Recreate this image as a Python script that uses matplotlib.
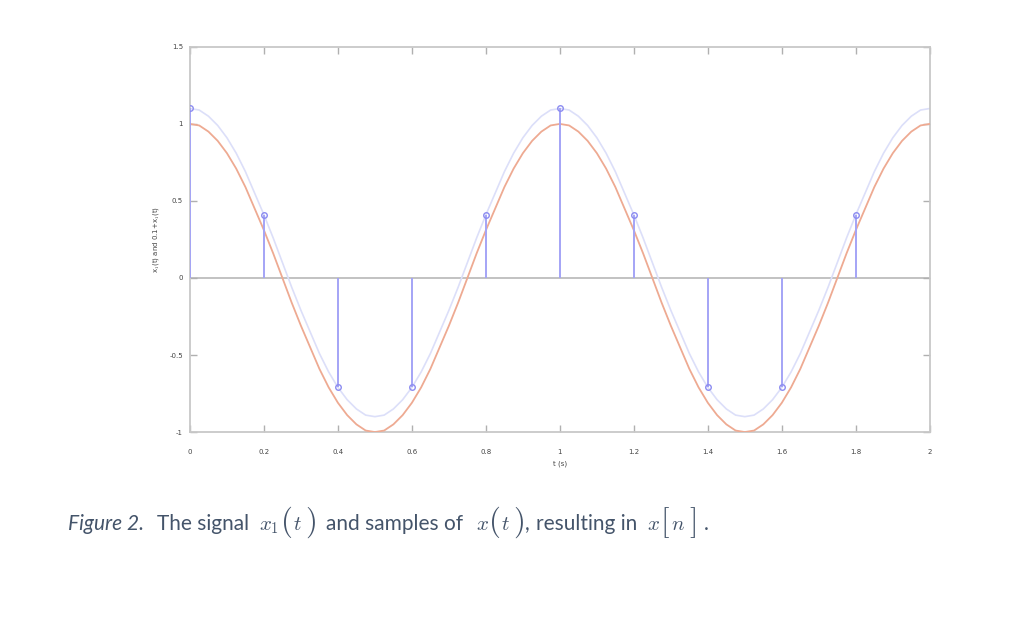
import numpy as np
import matplotlib
matplotlib.use("Agg")
import matplotlib.pyplot as plt

# ---- data ----
t_samples = [0.0, 0.2, 0.4, 0.6, 0.8, 1.0, 1.2, 1.4, 1.6, 1.8]
x_samples = [1.10, 0.41, -0.71, -0.71, 0.41, 1.10, 0.41, -0.71, -0.71, 0.41]

t_curve = np.linspace(0, 2, 81)
x1_period = [1.00, 0.99, 0.95, 0.89, 0.81, 0.71, 0.59, 0.45, 0.31, 0.16,
             0.00, -0.16, -0.31, -0.45, -0.59, -0.71, -0.81, -0.89, -0.95, -0.99,
             -1.00, -0.99, -0.95, -0.89, -0.81, -0.71, -0.59, -0.45, -0.31, -0.16,
             0.00, 0.16, 0.31, 0.45, 0.59, 0.71, 0.81, 0.89, 0.95, 0.99]
x1_curve = x1_period + x1_period + [1.00]
xs_period = [1.10, 1.09, 1.05, 0.99, 0.91, 0.81, 0.69, 0.55, 0.41, 0.26,
             0.10, -0.06, -0.21, -0.35, -0.49, -0.61, -0.71, -0.79, -0.85, -0.89,
             -0.90, -0.89, -0.85, -0.79, -0.71, -0.61, -0.49, -0.35, -0.21, -0.06,
             0.10, 0.26, 0.41, 0.55, 0.69, 0.81, 0.91, 0.99, 1.05, 1.09]
xs_curve = xs_period + xs_period + [1.10]

x_ticks = [0, 0.2, 0.4, 0.6, 0.8, 1, 1.2, 1.4, 1.6, 1.8, 2]
x_tick_labels = ["0", "0.2", "0.4", "0.6", "0.8", "1", "1.2", "1.4", "1.6", "1.8", "2"]
y_ticks = [-1, -0.5, 0, 0.5, 1, 1.5]
y_tick_labels = ["-1", "-0.5", "0", "0.5", "1", "1.5"]

# ---- figure ----
plt.rcParams['mathtext.fontset'] = 'cm'
fig = plt.figure(figsize=(10.24, 6.42), dpi=100)
ax = fig.add_axes([0.1855, 0.327, 0.7225, 0.600])

ax.plot(t_curve, xs_curve, color='#dcdff9', lw=1.2, zorder=2)
ax.plot(t_curve, x1_curve, color='#eeaa92', lw=1.3, zorder=3)
ax.axhline(0, color='#bdbdbd', lw=1.3, zorder=1)
ax.vlines(t_samples, 0, x_samples, color='#a4a4f6', lw=1.4, zorder=4)
ax.plot(t_samples, x_samples, 'o', ms=4, mfc='none', mec='#8c8cf0', mew=1.0, zorder=5)

ax.set_xlim(0, 2)
ax.set_ylim(-1, 1.5)
ax.set_xticks(x_ticks)
ax.set_xticklabels(x_tick_labels)
ax.set_yticks(y_ticks)
ax.set_yticklabels(y_tick_labels)
ax.tick_params(direction='in', length=5, width=1, color='#b0b0b0',
               labelsize=5, labelcolor='#444444', top=True, right=True)
ax.tick_params(axis='x', pad=12)
ax.tick_params(axis='y', pad=5)
for s in ax.spines.values():
    s.set_color('#c8c8c8')
    s.set_linewidth(1.3)

ax.set_xlabel('t (s)', fontsize=5, color='#444444', labelpad=4)
ax.set_ylabel(r'x$_1$(t) and 0.1+x$_1$(t)', fontsize=5, color='#444444', labelpad=6)

# caption, built from pieces (text, pixel x, fontsize, italic)
col = '#44546a'
base = 1 - 530 / 642
pieces = [
    ('Figure 2.', 68, 15, True),
    ('The signal', 157, 15, False),
    (r'$x_1$', 259, 15, False),
    (r'$($', 280, 22, False),
    (r'$t$', 293, 15, False),
    (r'$)$', 305, 22, False),
    ('and samples of', 326, 15, False),
    (r'$x$', 476, 15, False),
    (r'$($', 488, 22, False),
    (r'$t$', 501, 15, False),
    (r'$)$', 513, 22, False),
    (',', 525, 15, False),
    ('resulting in', 536, 15, False),
    (r'$x$', 647, 15, False),
    (r'$[$', 660, 22, False),
    (r'$n$', 671, 15, False),
    (r'$]$', 689, 22, False),
    ('.', 704, 15, False),
]
for txt, px, fsz, it in pieces:
    fig.text(px / 1024, base, txt, fontsize=fsz, family='Lato',
             style='italic' if it else 'normal', color=col, va='baseline')

fig.savefig('out.png', dpi=100)
